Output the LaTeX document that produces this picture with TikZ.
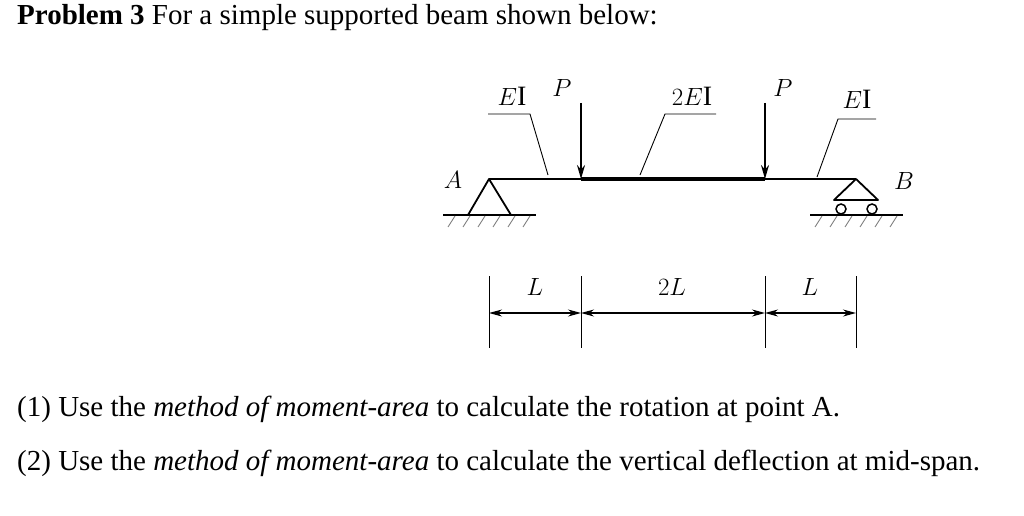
\documentclass[tikz,border=0pt]{standalone}
\usepackage{fontspec}
\setmainfont{Liberation Serif}
\usetikzlibrary{arrows.meta,patterns}
\begin{document}
\begin{tikzpicture}[x=1pt,y=-1pt,
  thinl/.style={line width=0.9pt},
  lbl/.style={font=\fontsize{28}{32}\selectfont,inner sep=0pt},
  txt/.style={font=\fontsize{29}{34}\selectfont,inner sep=0pt,anchor=west},
  dimarr/.style={line width=1.1pt,{Stealth[length=13pt,width=7pt]}-{Stealth[length=13pt,width=7pt]}}]
\useasboundingbox (0,0) rectangle (1024,516);
\node[txt] (t0) at (17,18) {\textbf{Problem 3} For a simple supported beam shown below:};
\node[txt] (t1) at (17,409) {(1) Use the \textit{method of moment-area} to calculate the rotation at point A.};
\node[txt] (t2) at (17,463) {(2) Use the \textit{method of moment-area} to calculate the vertical deflection at mid-span.};
% beam
\coordinate (A) at (489,179);
\coordinate (C) at (581,179);
\coordinate (D) at (765,179);
\coordinate (B) at (856,179);
\draw[line width=1.5pt] (A) -- (C);
\draw[line width=4.5pt] (C) -- (D);
\draw[line width=1.5pt] (D) -- (B);
% left support
\draw[line width=1.8pt,line join=round] (468,215) -- (A) -- (511,215);
\draw[line width=1.5pt] (443,215) -- (536,215);
\foreach \x in {448,463,...,530} \draw[gray,line width=0.9pt] (\x,227) -- (\x+7,216);
% right support
\draw[line width=1.8pt,line join=round] (834,200) -- (B) -- (878,200) -- cycle;
\draw[line width=1.5pt] (841,209) circle (5) (872,209) circle (5);
\draw[line width=1.5pt] (810,215) -- (903,215);
\foreach \x in {815,830,...,895} \draw[gray,line width=0.9pt] (\x,227) -- (\x+7,216);
% loads
\coordinate (P1t) at (581,103);
\coordinate (P2t) at (765,103);
\draw[line width=1.8pt,-{Stealth[length=14pt,width=8pt]}] (P1t) -- (C);
\draw[line width=1.8pt,-{Stealth[length=14pt,width=8pt]}] (P2t) -- (D);
\node[lbl] (p1) at (562,88) {$P$};
\node[lbl] (p2) at (783,88) {$P$};
% leaders
\draw[thinl] (488,114) -- (530,114) -- (548,175);
\draw[thinl] (640,175) -- (665,114) -- (716,114);
\draw[thinl] (817,177) -- (838,119) -- (876,119);
\node[lbl] (ei1) at (512,96) {$E$I};
\node[lbl] (ei2) at (692,96) {$2E$I};
\node[lbl] (ei3) at (857,99) {$E$I};
\node[lbl] (a) at (453,180) {$A$};
\node[lbl] (b) at (904,181) {$B$};
% dimensions
\foreach \x in {489,581,765,856} \draw[thinl] (\x,276) -- (\x,348);
\draw[dimarr] (489,313) -- (581,313);
\draw[dimarr] (581,313) -- (765,313);
\draw[dimarr] (765,313) -- (856,313);
\node[lbl] (l1) at (535,287) {$L$};
\node[lbl] (l2) at (672,287) {$2L$};
\node[lbl] (l3) at (810,287) {$L$};
\end{tikzpicture}
\end{document}
